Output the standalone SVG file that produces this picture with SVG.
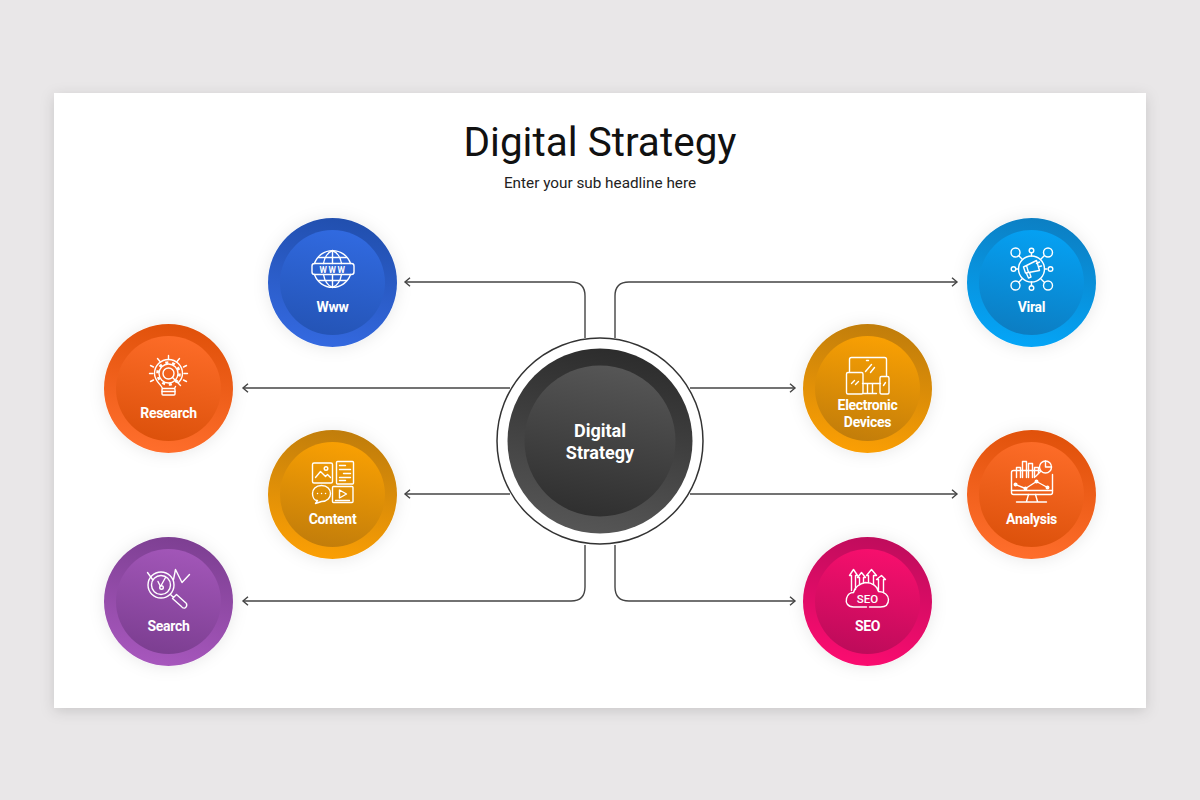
<svg xmlns="http://www.w3.org/2000/svg" width="1200" height="800" viewBox="0 0 1200 800">
<style>
.lbl{font-family:Roboto,"Liberation Sans",sans-serif;font-weight:700;font-size:14px;letter-spacing:-.3px;fill:#fff;text-anchor:middle;transform:translateY(-.5px)}
.ctr{font-size:18px;letter-spacing:0;transform:none}
.ic{fill:none;stroke:#fff;stroke-width:1.4;stroke-linecap:round;stroke-linejoin:round}
.it{font-family:Roboto,"Liberation Sans",sans-serif;fill:#fff;text-anchor:middle}
.con{fill:none;stroke:#444;stroke-width:1.4}
.arr{marker-end:url(#a)}
.sh{fill:#fff;filter:url(#s)}
.nd{transform:translate(.5px,.5px)}
</style>
<defs>
<marker id="a" markerUnits="userSpaceOnUse" markerWidth="12" markerHeight="12" refX="9" refY="6" orient="auto"><path d="M4 1.800L9 6L4 10.200" fill="none" stroke="#444" stroke-width="1.400"/></marker>
<filter id="s" x="-40%" y="-40%" width="180%" height="180%"><feDropShadow dx="0" dy="1" stdDeviation="8" flood-color="#000" flood-opacity=".09"/></filter>
<filter id="cs" x="-5%" y="-5%" width="110%" height="110%"><feDropShadow dx="0" dy="3" stdDeviation="7" flood-color="#000" flood-opacity=".14"/></filter>
<linearGradient id="b1" x1=".6" y1="0" x2=".4" y2="1"><stop offset="0" stop-color="#214fae"/><stop offset="1" stop-color="#3469e0"/></linearGradient>
<linearGradient id="b2" x1=".6" y1="0" x2=".4" y2="1"><stop offset="0" stop-color="#316ae0"/><stop offset="1" stop-color="#2454b6"/></linearGradient>
<linearGradient id="o1" x1=".6" y1="0" x2=".4" y2="1"><stop offset="0" stop-color="#e0510a"/><stop offset="1" stop-color="#ff6e2c"/></linearGradient>
<linearGradient id="o2" x1=".6" y1="0" x2=".4" y2="1"><stop offset="0" stop-color="#fd6c28"/><stop offset="1" stop-color="#dc510b"/></linearGradient>
<linearGradient id="y1" x1=".6" y1="0" x2=".4" y2="1"><stop offset="0" stop-color="#c07d0b"/><stop offset="1" stop-color="#fb9f04"/></linearGradient>
<linearGradient id="y2" x1=".6" y1="0" x2=".4" y2="1"><stop offset="0" stop-color="#f9a003"/><stop offset="1" stop-color="#c27d0a"/></linearGradient>
<linearGradient id="p1" x1=".6" y1="0" x2=".4" y2="1"><stop offset="0" stop-color="#7d3f92"/><stop offset="1" stop-color="#a757bd"/></linearGradient>
<linearGradient id="p2" x1=".6" y1="0" x2=".4" y2="1"><stop offset="0" stop-color="#a256b8"/><stop offset="1" stop-color="#7c3e91"/></linearGradient>
<linearGradient id="c1" x1=".6" y1="0" x2=".4" y2="1"><stop offset="0" stop-color="#0c7fc3"/><stop offset="1" stop-color="#04a5f7"/></linearGradient>
<linearGradient id="c2" x1=".6" y1="0" x2=".4" y2="1"><stop offset="0" stop-color="#05a1f3"/><stop offset="1" stop-color="#0c7dc2"/></linearGradient>
<linearGradient id="m1" x1=".6" y1="0" x2=".4" y2="1"><stop offset="0" stop-color="#bf0c5c"/><stop offset="1" stop-color="#fb0c70"/></linearGradient>
<linearGradient id="m2" x1=".6" y1="0" x2=".4" y2="1"><stop offset="0" stop-color="#f70f6d"/><stop offset="1" stop-color="#bd0b5a"/></linearGradient>
<linearGradient id="d1" x1=".6" y1="0" x2=".4" y2="1"><stop offset="0" stop-color="#2c2c2c"/><stop offset="1" stop-color="#565656"/></linearGradient>
<linearGradient id="d2" x1=".6" y1="0" x2=".4" y2="1"><stop offset="0" stop-color="#565656"/><stop offset="1" stop-color="#2f2f2f"/></linearGradient>
</defs>
<rect width="1200" height="800" fill="#e9e7e8"/>
<rect x="54" y="93" width="1092" height="615" fill="#fff" filter="url(#cs)"/>
<text x="600" y="156" font-family="Roboto,'Liberation Sans',sans-serif" font-size="40.500" fill="#111" text-anchor="middle">Digital Strategy</text>
<text x="600" y="188" font-family="Roboto,'Liberation Sans',sans-serif" font-size="15.300" fill="#222" text-anchor="middle">Enter your sub headline here</text>

<g id="connectors" class="con">
<path class="arr" d="M585 338V296Q585 282 571 282H405"/>
<path class="arr" d="M615 338V296Q615 282 629 282H957"/>
<path class="arr" d="M510 388H243"/>
<path class="arr" d="M690 388H795"/>
<path class="arr" d="M510 494H405"/>
<path class="arr" d="M690 494H957"/>
<path class="arr" d="M585 545V587Q585 601 571 601H243"/>
<path class="arr" d="M615 545V587Q615 601 629 601H795"/>
</g>

<g id="node-center">
<circle cx="600" cy="441" r="103" fill="#fff" stroke="#333" stroke-width="1.500"/>
<circle cx="600" cy="441" r="92.500" fill="url(#d1)"/>
<circle cx="600" cy="441" r="75.500" fill="url(#d2)"/>
<text class="lbl ctr" x="600" y="437">Digital</text>
<text class="lbl ctr" x="600" y="459">Strategy</text>
</g>

<g id="node-www" class="nd">
<circle class="sh" cx="332" cy="282" r="64.500"/>
<circle cx="332" cy="282" r="64.500" fill="url(#b1)"/>
<circle cx="332" cy="282" r="52.500" fill="url(#b2)"/>
<g class="ic">
<path d="M314 263A19 19 0 0 1 350 263M314 274A19 19 0 0 0 350 274"/>
<path d="M332 250V263M332 274V287M323 263C324 257 327 252 332 250C337 252 340 257 341 263M323 274C324 280 327 285 332 287C337 285 340 280 341 274M318 257H346M318 280H346"/>
<rect x="311.500" y="263" width="42" height="11" rx="2.500"/>
</g>
<text class="it" x="332.500" y="272" font-size="8.500" font-weight="700" letter-spacing="1.500">WWW</text>
<text class="lbl" x="332" y="312">Www</text>
</g>

<g id="node-research" class="nd">
<circle class="sh" cx="168" cy="388" r="64.500"/>
<circle cx="168" cy="388" r="64.500" fill="url(#o1)"/>
<circle cx="168" cy="388" r="52.500" fill="url(#o2)"/>
<g class="ic">
<path d="M162 388C161 384 154 381 154 373A14 14 0 1 1 182 373C182 377 180 380 178 382M174 388L175 386"/>
<rect x="161.500" y="388" width="13" height="6.500" rx="1"/><path d="M161.500 391H174.500"/>
<circle cx="168" cy="373" r="9.500"/>
<circle cx="168" cy="373" r="11" stroke-width="2.600" stroke-dasharray="3 3.900" stroke-linecap="butt"/>
<circle cx="168" cy="373" r="5.500"/>
<path d="M172 377L180 385"/>
<path d="M168 355V359M157 358L159.500 361M179 358L176.500 361M149 373H152.500M187 373H183.500M150 381L153 379.500M186 381L183 379.500M150 365L153 366.500M186 365L183 366.500"/>
</g>
<text class="lbl" x="168" y="418">Research</text>
</g>

<g id="node-content" class="nd">
<circle class="sh" cx="332" cy="494" r="64.500"/>
<circle cx="332" cy="494" r="64.500" fill="url(#y1)"/>
<circle cx="332" cy="494" r="52.500" fill="url(#y2)"/>
<g class="ic">
<rect x="312" y="462.500" width="20" height="20" rx="1.500"/>
<path d="M315 477L320 471L325 476L327 474L330 477"/><circle cx="325.500" cy="468" r="1.800"/>
<rect x="336" y="461" width="17" height="22.500" rx="1"/>
<path d="M339 465H345M339 469H350M343 473H350M339 477H350M339 480H345"/>
<path d="M321 485C315 485 312 489 312 493C312 497 314 500 317 500L315 503L321 501C327 501 330 497 330 493C330 489 327 485 321 485Z"/>
<path d="M317 493H317.100M321 493H321.100M325 493H325.100"/>
<rect x="332" y="486" width="20.500" height="16" rx="1"/>
<path d="M339 489.500L346 493.500L339 497.500ZM335 500H349"/>
</g>
<text class="lbl" x="332" y="524">Content</text>
</g>

<g id="node-search" class="nd">
<circle class="sh" cx="168" cy="601" r="64.500"/>
<circle cx="168" cy="601" r="64.500" fill="url(#p1)"/>
<circle cx="168" cy="601" r="52.500" fill="url(#p2)"/>
<g class="ic">
<circle cx="160.500" cy="584.500" r="13"/><circle cx="160.500" cy="584.500" r="9.500"/>
<path d="M147 572L152 579M160 586L157.500 581M160 586L165 577"/><circle cx="161" cy="587" r="1.800"/>
<path d="M170 594L173 597M173 597L176 594L186 603Q187 606 184.500 607.500Q182 608 181 606L172 598"/>
<path d="M173 579L175 569L181.500 582L189 574"/>
</g>
<text class="lbl" x="168" y="631">Search</text>
</g>

<g id="node-viral" class="nd">
<circle class="sh" cx="1031" cy="282" r="64.500"/>
<circle cx="1031" cy="282" r="64.500" fill="url(#c1)"/>
<circle cx="1031" cy="282" r="52.500" fill="url(#c2)"/>
<g class="ic">
<circle cx="1031" cy="268.500" r="13"/>
<circle cx="1015" cy="252" r="4.500"/><circle cx="1047.500" cy="252" r="4.500"/><circle cx="1015" cy="285" r="4.500"/><circle cx="1047.500" cy="285" r="4.500"/>
<circle cx="1031" cy="250" r="2.300"/><circle cx="1031" cy="287.500" r="2.300"/><circle cx="1013" cy="268.500" r="2.300"/><circle cx="1050" cy="268.500" r="2.300"/>
<path d="M1018 255L1022 259M1044 255L1040 259M1018 282L1022 278M1044 282L1040 278M1031 252.500V255.500M1031 281.500V285M1015.500 268.500H1018M1046.500 268.500H1044"/>
<path d="M1026 265L1036 260L1039 270L1028 272ZM1026 265L1023 266.500L1025 272.500L1028 272M1026 273L1028 277.500L1030.500 276.500L1029 272M1036 263L1039 261.500M1039 266L1041 265.500"/>
</g>
<text class="lbl" x="1031" y="312">Viral</text>
</g>

<g id="node-electronic" class="nd">
<circle class="sh" cx="867" cy="388" r="64.500"/>
<circle cx="867" cy="388" r="64.500" fill="url(#y1)"/>
<circle cx="867" cy="388" r="52.500" fill="url(#y2)"/>
<g class="ic">
<path d="M849 371V359Q849 357 851 357H884Q886 357 886 359V375M862 383H880M867 383V392M872 383V392M863 393H876"/>
<rect x="846" y="372" width="16.500" height="21.500" rx="1.500"/>
<rect x="879.500" y="376" width="9" height="17.500" rx="1.500"/>
<path d="M865 371L871 364M870 372L874 367M851 383L854 380M855 384L858 381M883 385L885 382M866 360H868"/>
</g>
<text class="lbl" x="867" y="410">Electronic</text>
<text class="lbl" x="867" y="427">Devices</text>
</g>

<g id="node-analysis" class="nd">
<circle class="sh" cx="1031" cy="494" r="64.500"/>
<circle cx="1031" cy="494" r="64.500" fill="url(#o1)"/>
<circle cx="1031" cy="494" r="52.500" fill="url(#o2)"/>
<g class="ic">
<path d="M1039 470H1013Q1011 470 1011 472V492Q1011 494 1013 494H1050Q1052 494 1052 492V474"/>
<path d="M1011 490H1052M1028 494L1026 501M1035 494L1037 501M1016 501.500H1046"/>
<path d="M1016 477V467H1020V477M1022 477V461H1026V477M1028 477V463H1032V477M1034 477V467H1038V473"/>
<circle cx="1045" cy="466.500" r="6"/><path d="M1045 460.500V466.500H1051M1040 471L1035 476"/>
<path d="M1015 484L1025 488L1036 481L1047 487"/>
<circle cx="1015" cy="484" r="1.300"/><circle cx="1025" cy="488" r="1.300"/><circle cx="1036" cy="481" r="1.300"/><circle cx="1047" cy="487" r="1.300"/>
</g>
<text class="lbl" x="1031" y="524">Analysis</text>
</g>

<g id="node-seo" class="nd">
<circle class="sh" cx="867" cy="601" r="64.500"/>
<circle cx="867" cy="601" r="64.500" fill="url(#m1)"/>
<circle cx="867" cy="601" r="52.500" fill="url(#m2)"/>
<g class="ic">
<path d="M866 606.500H853C847 606.500 845 602 846 598C847 594 850 592 853 592C854 587 859 583 865 582C872 582 877 586 878 591C884 591 888 595 888 599C888 604 885 606.500 880 606.500H869"/>
<path d="M851 590V575H849L853 569L857 575H855V589M859 584V577H857L861 572L865 577H863V582M868 582V575H866L871 569L876 575H873V584M878 590V579H876L881 575L885 579H883V592"/>
</g>
<text class="it" x="867" y="602" font-size="11.500" font-weight="500">SEO</text>
<text class="lbl" x="867" y="631">SEO</text>
</g>
</svg>
